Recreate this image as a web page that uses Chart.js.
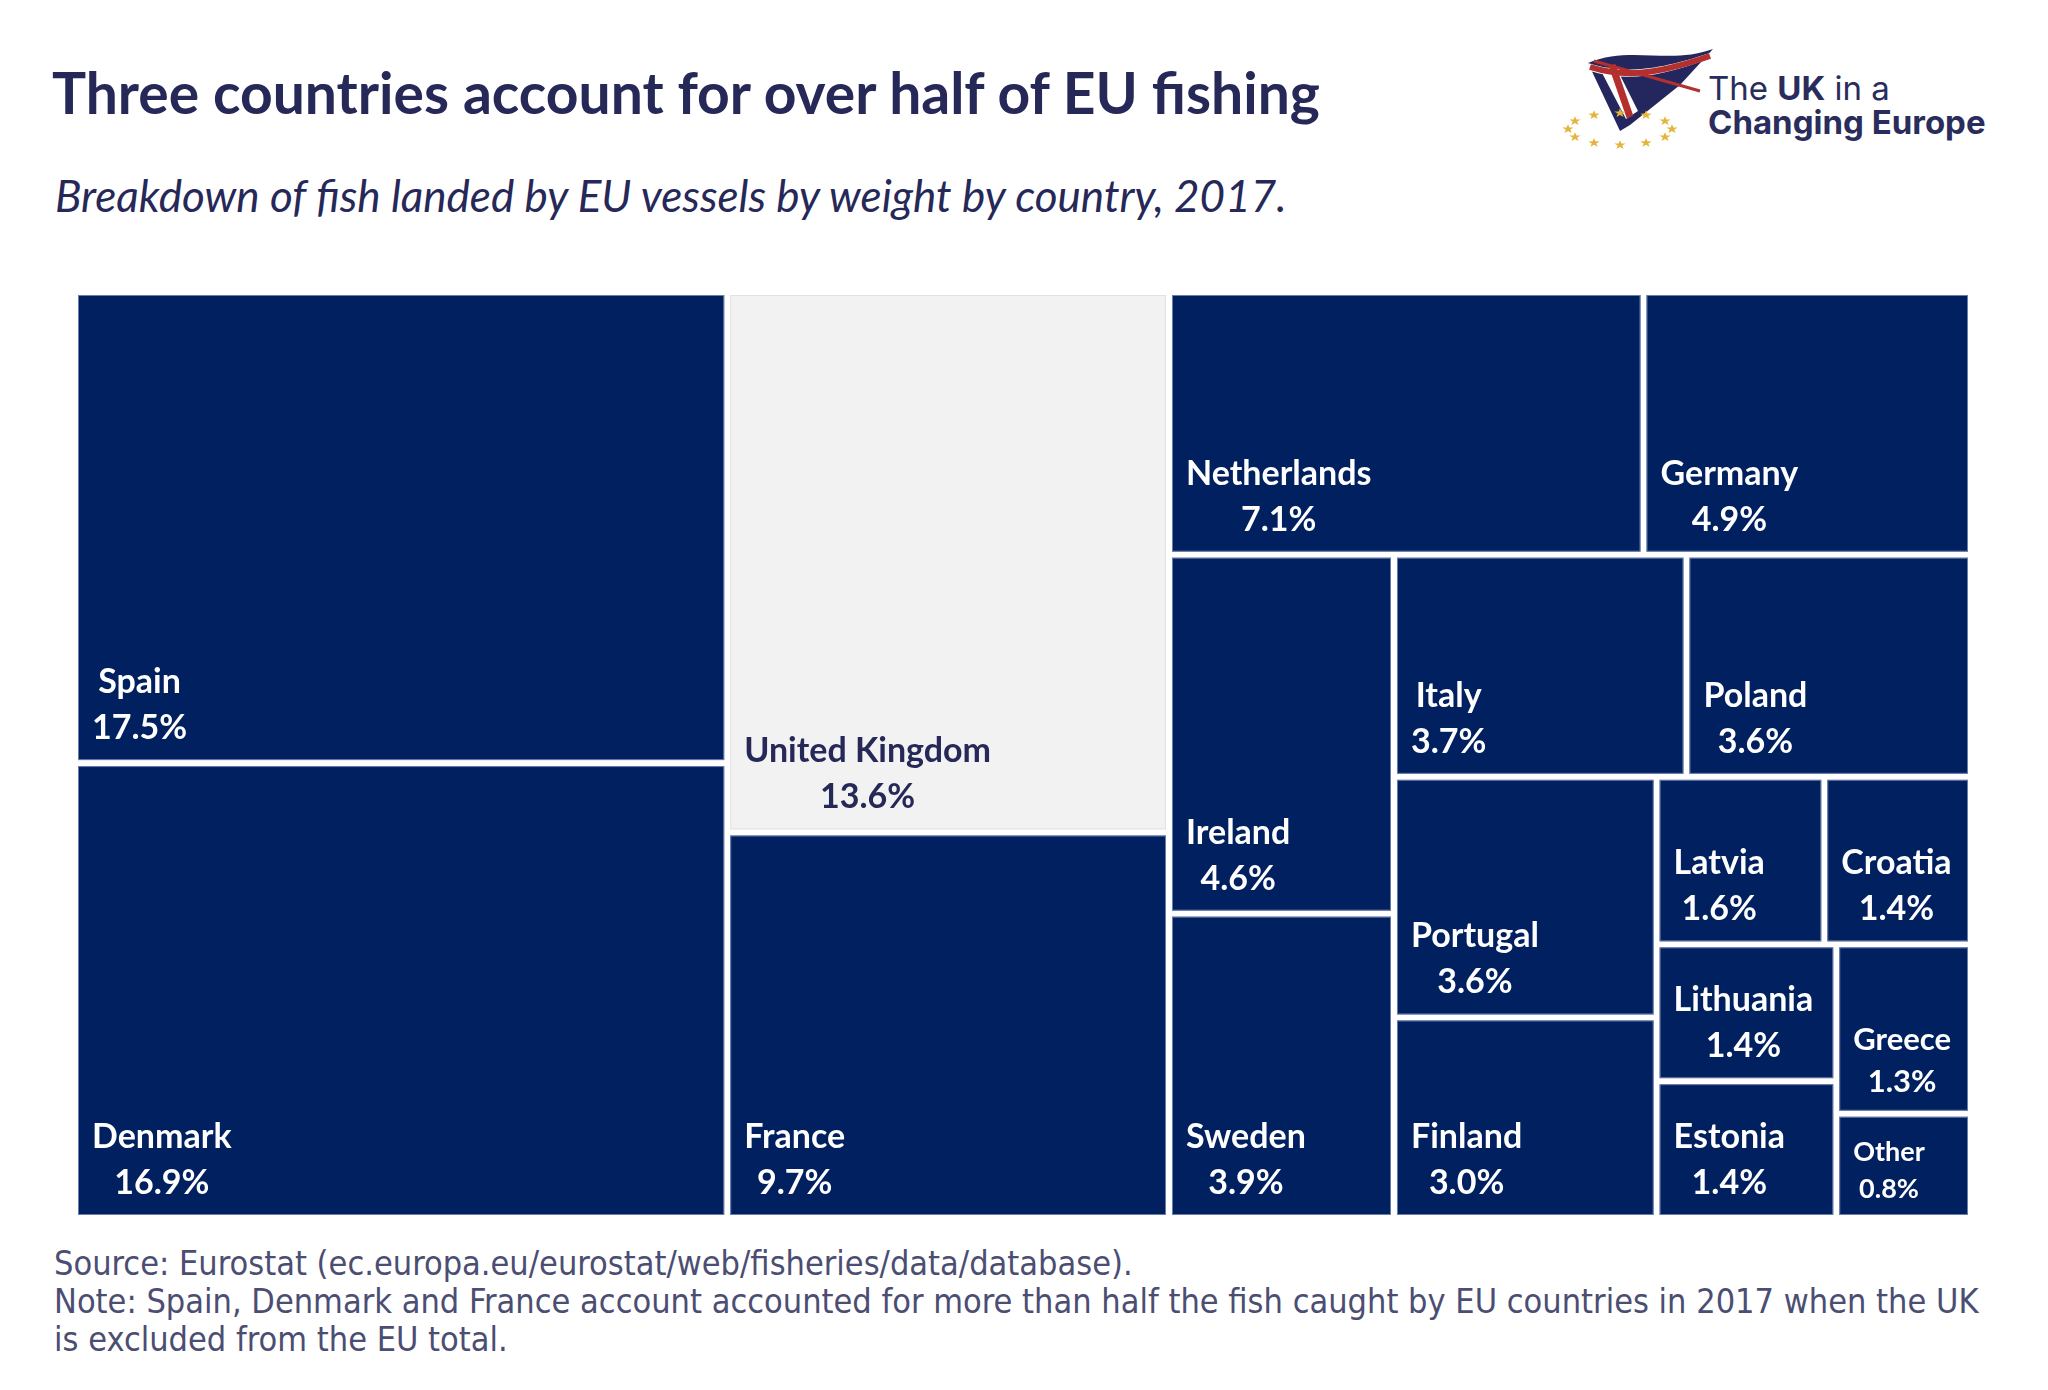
<!DOCTYPE html>
<html>
<head>
<meta charset="utf-8">
<script src="https://cdn.jsdelivr.net/npm/chart.js@4.4.0/dist/chart.umd.min.js"></script>
<style>
  body { margin: 0; width: 2048px; height: 1390px; background: #fff; position: relative; overflow: hidden; }
  .title { position: absolute; left: 52px; top: 64px; font: bold 57px Lato, sans-serif; color: #262858; line-height: 1; white-space: nowrap; }
  .subtitle { position: absolute; left: 55px; top: 173px; font: italic 44px Lato, sans-serif; color: #262858; line-height: 1; white-space: nowrap; }
  .chart-box { position: absolute; left: 75px; top: 292px; width: 1896px; height: 926px; }
  .footer { position: absolute; left: 54px; top: 1244px; font-family: "DejaVu Sans Condensed", "DejaVu Sans", sans-serif; font-stretch: condensed; font-size: 34px; line-height: 38px; color: #4b4e72; white-space: nowrap; }
  .logo-text { position: absolute; left: 1708px; font-family: Inter, sans-serif; color: #2a2d5c; white-space: nowrap; line-height: 1; }
</style>
</head>
<body>
<div class="title">Three countries account for over half of EU fishing</div>
<div class="subtitle">Breakdown of fish landed by EU vessels by weight by country, 2017.</div>

<svg style="position:absolute;left:1560px;top:45px" width="160" height="105" viewBox="0 0 160 105">
  <path d="M28 18 C70 0 110 20 153 4 L120 40 L70 80 L60 86 Z" fill="#23275e"/>
  <path d="M40 24 L66 74 L78 66 L56 22 Z" fill="#fff"/>
  <path d="M28 18 C60 28 90 28 150 8 L148 14 C95 34 62 36 30 26 Z" fill="#fff"/>
  <path d="M30 22 C62 32 92 31 150 11" stroke="#b3302e" stroke-width="6" fill="none"/>
  <path d="M52 20 L70 72" stroke="#b3302e" stroke-width="7"/>
  <path d="M34 16 L140 46" stroke="#b3302e" stroke-width="3"/>
  <g fill="#e4b53a" id="stars"></g>
</svg>
<div class="logo-text" style="top:72px;font-size:33px;">The <b>UK</b> in a</div>
<div class="logo-text" style="top:106px;font-size:33px;font-weight:700;">Changing Europe</div>

<div class="chart-box"><canvas id="treemap"></canvas></div>

<div class="footer">Source: Eurostat (ec.europa.eu/eurostat/web/fisheries/data/database).<br>Note: Spain, Denmark and France account accounted for more than half the fish caught by EU countries in 2017 when the UK<br>is excluded from the EU total.</div>

<script>
// ── DATA ─────────────────────────────────────────────
const countries = ['Spain', 'Denmark', 'United Kingdom', 'France', 'Netherlands', 'Germany',
  'Ireland', 'Sweden', 'Italy', 'Poland', 'Portugal', 'Finland',
  'Latvia', 'Croatia', 'Lithuania', 'Estonia', 'Greece', 'Other'];
const shares = [17.5, 16.9, 13.6, 9.7, 7.1, 4.9, 4.6, 3.9, 3.7, 3.6, 3.6, 3.0, 1.6, 1.4, 1.4, 1.4, 1.3, 0.8];

// squarified strips: how many boxes each strip takes, and whether it is a column or a row
const stripCounts = [2, 2, 2, 2, 2, 2, 2, 2, 2];
const stripDirs = ['col', 'col', 'row', 'col', 'row', 'col', 'row', 'col', 'col'];

const NAVY = '#002060';
const HIGHLIGHT = 'United Kingdom';
const GAP = 6;

// small boxes get a smaller label
const labelScale = { Greece: 0.9, Other: 0.8 };

// ── stars round the flag ──
(function drawStars() {
  const g = document.getElementById('stars');
  for (let i = 0; i < 12; i++) {
    const a = i / 12 * Math.PI * 2;
    const cx = 60 + Math.cos(a) * 52, cy = 84 + Math.sin(a) * 16;
    let pts = [];
    for (let k = 0; k < 10; k++) {
      const r = k % 2 ? 2.4 : 6;
      const t = -Math.PI / 2 + k * Math.PI / 5;
      pts.push((cx + Math.cos(t) * r).toFixed(1) + ',' + (cy + Math.sin(t) * r * 0.8).toFixed(1));
    }
    const p = document.createElementNS('http://www.w3.org/2000/svg', 'polygon');
    p.setAttribute('points', pts.join(' '));
    g.appendChild(p);
  }
})();

// Lay out the boxes in value space (0..100 on both axes)
function layoutBoxes() {
  const boxes = [];
  let rem = { x0: 0, y0: 0, x1: 100, y1: 100 };
  let remSum = shares.reduce((a, b) => a + b, 0);
  let idx = 0;
  stripCounts.forEach((n, s) => {
    const vals = shares.slice(idx, idx + n);
    const stripSum = vals.reduce((a, b) => a + b, 0);
    const frac = stripSum / remSum;
    if (stripDirs[s] === 'col') {
      const x1 = rem.x0 + (rem.x1 - rem.x0) * frac;
      let y = rem.y0;
      vals.forEach((v, k) => {
        const h = (rem.y1 - rem.y0) * v / stripSum;
        boxes.push({ i: idx + k, x0: rem.x0, x1: x1, y0: y, y1: y + h });
        y += h;
      });
      rem = { x0: x1, y0: rem.y0, x1: rem.x1, y1: rem.y1 };
    } else {
      const y1 = rem.y0 + (rem.y1 - rem.y0) * frac;
      let x = rem.x0;
      vals.forEach((v, k) => {
        const w = (rem.x1 - rem.x0) * v / stripSum;
        boxes.push({ i: idx + k, x0: x, x1: x + w, y0: rem.y0, y1: y1 });
        x += w;
      });
      rem = { x0: rem.x0, y0: y1, x1: rem.x1, y1: rem.y1 };
    }
    remSum -= stripSum;
    idx += n;
  });
  return boxes;
}

const treemapPlugin = {
  id: 'treemap',
  afterDatasetsDraw(chart) {
    const { ctx, scales: { x, y } } = chart;
    ctx.save();
    layoutBoxes().forEach(b => {
      const name = countries[b.i];
      const left = x.getPixelForValue(b.x0) + GAP / 2;
      const right = x.getPixelForValue(b.x1) - GAP / 2;
      const top = y.getPixelForValue(b.y0) + GAP / 2;
      const bottom = y.getPixelForValue(b.y1) - GAP / 2;
      const isHi = name === HIGHLIGHT;

      ctx.fillStyle = isHi ? '#f2f2f2' : NAVY;
      ctx.fillRect(left, top, right - left, bottom - top);
      ctx.strokeStyle = isHi ? '#e2e2e2' : 'rgba(150,165,200,0.7)';
      ctx.lineWidth = 1;
      ctx.strokeRect(left + 0.5, top + 0.5, right - left - 1, bottom - top - 1);

      // label: name over value, centred on each other, block near bottom-left
      const s = labelScale[name] || 1;
      ctx.font = `bold ${Math.round(34 * s)}px Lato, sans-serif`;
      ctx.fillStyle = isHi ? '#262858' : '#ffffff';
      ctx.textAlign = 'center';
      ctx.textBaseline = 'alphabetic';
      const val = shares[b.i].toFixed(1) + '%';
      const blockW = Math.max(ctx.measureText(name).width, ctx.measureText(val).width);
      const cx = left + 14 + blockW / 2;
      ctx.fillText(name, cx, bottom - 67 * s);
      ctx.fillText(val, cx, bottom - 21 * s);
    });
    ctx.restore();
  }
};

new Chart(document.getElementById('treemap'), {
  type: 'scatter',
  data: { datasets: [{ data: [], pointRadius: 0 }] },
  options: {
    responsive: true,
    maintainAspectRatio: false,
    animation: false,
    layout: { padding: 0 },
    plugins: { legend: { display: false }, tooltip: { enabled: false } },
    scales: {
      x: { type: 'linear', min: 0, max: 100, display: false },
      y: { type: 'linear', min: 0, max: 100, reverse: true, display: false }
    }
  },
  plugins: [treemapPlugin]
});
</script>
</body>
</html>
